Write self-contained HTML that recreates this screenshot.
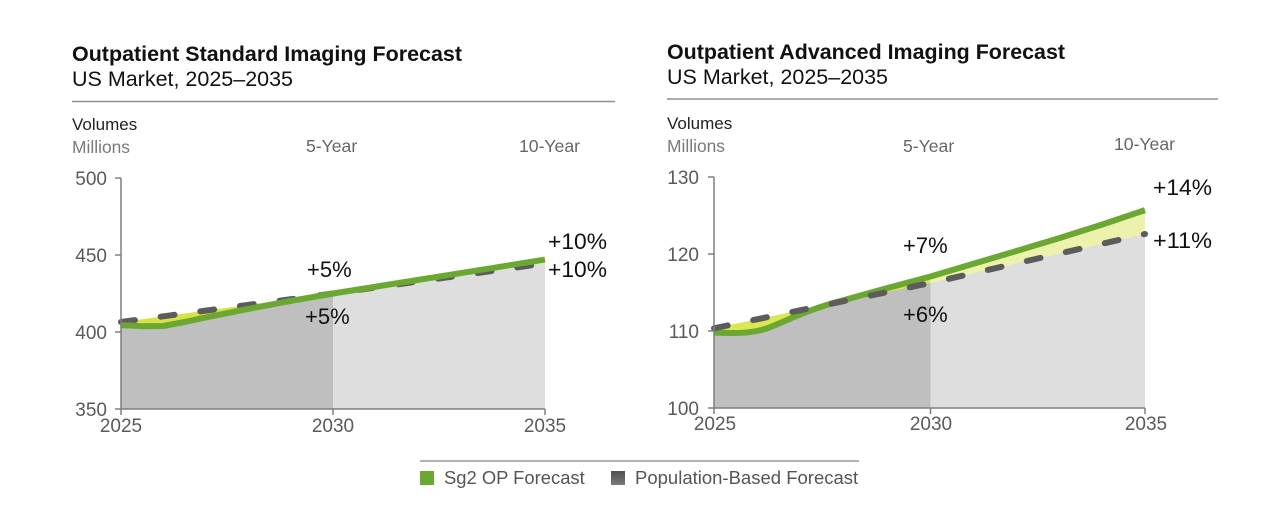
<!DOCTYPE html>
<html>
<head>
<meta charset="utf-8">
<style>
  html, body { margin:0; padding:0; background:#ffffff; }
  body { width:1280px; height:530px; overflow:hidden; }
  svg { display:block; }
  text { font-family: "Liberation Sans", Arial, sans-serif; }
</style>
</head>
<body>
<svg width="1280" height="530" viewBox="0 0 1280 530" xmlns="http://www.w3.org/2000/svg">
  <defs>
    <clipPath id="lDark"><rect x="121" y="100" width="212" height="320"/></clipPath>
    <clipPath id="lLight"><rect x="333" y="100" width="212" height="320"/></clipPath>
    <clipPath id="lUnderDash"><path d="M121,322 L333,293.5 L545,263.5 L545,409 L121,409 Z"/></clipPath>
    <clipPath id="rDark"><rect x="714" y="100" width="216.5" height="320"/></clipPath>
    <clipPath id="rLight"><rect x="930.5" y="100" width="214.5" height="320"/></clipPath>
    <clipPath id="rUnderDash"><path d="M714,328.3 L930.5,283 L1145,234 L1145,408 L714,408 Z"/></clipPath>
    <linearGradient id="lg" x1="0" y1="0" x2="0" y2="1">
      <stop offset="0" stop-color="#4f4f4f"/>
      <stop offset="1" stop-color="#7a7a7a"/>
    </linearGradient>
  </defs>

  <!-- ================= LEFT CHART ================= -->
  <text x="72" y="61" font-size="21" font-weight="bold" fill="#111" textLength="390" lengthAdjust="spacingAndGlyphs">Outpatient Standard Imaging Forecast</text>
  <text x="72" y="86" font-size="21" fill="#111" textLength="221" lengthAdjust="spacingAndGlyphs">US Market, 2025–2035</text>
  <line x1="72" y1="101.5" x2="615" y2="101.5" stroke="#8f8f8f" stroke-width="1.6"/>
  <text x="72" y="130" font-size="17" fill="#222">Volumes</text>
  <text x="72" y="153" font-size="17.4" fill="#7a7a7a">Millions</text>
  <text x="306" y="152" font-size="17.6" fill="#666">5-Year</text>
  <text x="519" y="152" font-size="17.6" fill="#666">10-Year</text>

  <g clip-path="url(#lDark)">
    <path d="M121,325.1 L142.2,326.2 L163.4,326 L184.6,322 L205.8,317.4 L248.2,308.9 L290.6,300.9 L333,293.5 L545,259.6 L545,409 L121,409 Z" fill="#d6e245"/>
    <path d="M121,322 L333,293.5 L545,263.5 L545,409 L121,409 Z" fill="#d6e245"/>
    <path clip-path="url(#lUnderDash)" d="M121,325.1 L142.2,326.2 L163.4,326 L184.6,322 L205.8,317.4 L248.2,308.9 L290.6,300.9 L333,293.5 L545,259.6 L545,409 L121,409 Z" fill="#bfbfbf"/>
  </g>
  <g clip-path="url(#lLight)">
    <path d="M121,325.1 L142.2,326.2 L163.4,326 L184.6,322 L205.8,317.4 L248.2,308.9 L290.6,300.9 L333,293.5 L545,259.6 L545,409 L121,409 Z" fill="#ecf2ac"/>
    <path d="M121,322 L333,293.5 L545,263.5 L545,409 L121,409 Z" fill="#ecf2ac"/>
    <path clip-path="url(#lUnderDash)" d="M121,325.1 L142.2,326.2 L163.4,326 L184.6,322 L205.8,317.4 L248.2,308.9 L290.6,300.9 L333,293.5 L545,259.6 L545,409 L121,409 Z" fill="#dedede"/>
  </g>

  <path d="M121,322 L333,293.5 L545,263.5" fill="none" stroke="#5c5c5c" stroke-width="6" stroke-dasharray="14 26" stroke-linecap="round"/>
  <path d="M121,325.1 L142.2,326.2 L163.4,326 L184.6,322 L205.8,317.4 L248.2,308.9 L290.6,300.9 L333,293.5 L545,259.6" fill="none" stroke="#6ba832" stroke-width="6" stroke-linejoin="round"/>

  <g stroke="#7f7f7f" stroke-width="1.5" fill="none">
    <line x1="121" y1="178" x2="121" y2="409"/>
    <line x1="121" y1="409" x2="545" y2="409"/>
    <line x1="115" y1="178" x2="121" y2="178"/>
    <line x1="115" y1="255" x2="121" y2="255"/>
    <line x1="115" y1="332" x2="121" y2="332"/>
    <line x1="115" y1="409" x2="121" y2="409"/>
    <line x1="121" y1="409" x2="121" y2="415"/>
    <line x1="333" y1="409" x2="333" y2="415"/>
    <line x1="545" y1="409" x2="545" y2="415"/>
  </g>
  <g font-size="19" fill="#5a5a5a" text-anchor="end">
    <text x="107" y="185">500</text>
    <text x="107" y="262">450</text>
    <text x="107" y="339">400</text>
    <text x="107" y="416">350</text>
  </g>
  <g font-size="19" fill="#5a5a5a" text-anchor="middle">
    <text x="121" y="432">2025</text>
    <text x="333" y="432">2030</text>
    <text x="545" y="432">2035</text>
  </g>
  <g font-size="22" fill="#111">
    <text x="307" y="277">+5%</text>
    <text x="305" y="324">+5%</text>
    <text x="548" y="249" textLength="59" lengthAdjust="spacingAndGlyphs">+10%</text>
    <text x="548" y="277" textLength="59" lengthAdjust="spacingAndGlyphs">+10%</text>
  </g>

  <!-- ================= RIGHT CHART ================= -->
  <text x="667" y="59" font-size="21" font-weight="bold" fill="#111" textLength="398" lengthAdjust="spacingAndGlyphs">Outpatient Advanced Imaging Forecast</text>
  <text x="667" y="84" font-size="21" fill="#111" textLength="221" lengthAdjust="spacingAndGlyphs">US Market, 2025–2035</text>
  <line x1="667" y1="99" x2="1218" y2="99" stroke="#8f8f8f" stroke-width="1.6"/>
  <text x="667" y="129" font-size="17" fill="#222">Volumes</text>
  <text x="667" y="152" font-size="17.4" fill="#7a7a7a">Millions</text>
  <text x="903" y="152" font-size="17.6" fill="#666">5-Year</text>
  <text x="1114" y="150" font-size="17.6" fill="#666">10-Year</text>

  <g clip-path="url(#rDark)">
    <path d="M714,332.5 C735,333.5 750,333.5 765,329 C785,322 805,310 843.3,300.3 L886.4,288.3 L930.5,276.5 L972.6,264 L1015.7,251.2 L1058.8,238.2 L1101.9,224.6 L1145,210.1 L1145,408 L714,408 Z" fill="#dbe653"/>
    <path d="M714,328.3 L930.5,283 L1145,234 L1145,408 L714,408 Z" fill="#dbe653"/>
    <path clip-path="url(#rUnderDash)" d="M714,332.5 C735,333.5 750,333.5 765,329 C785,322 805,310 843.3,300.3 L886.4,288.3 L930.5,276.5 L972.6,264 L1015.7,251.2 L1058.8,238.2 L1101.9,224.6 L1145,210.1 L1145,408 L714,408 Z" fill="#bfbfbf"/>
  </g>
  <g clip-path="url(#rLight)">
    <path d="M714,332.5 C735,333.5 750,333.5 765,329 C785,322 805,310 843.3,300.3 L886.4,288.3 L930.5,276.5 L972.6,264 L1015.7,251.2 L1058.8,238.2 L1101.9,224.6 L1145,210.1 L1145,408 L714,408 Z" fill="#ecf2ac"/>
    <path d="M714,328.3 L930.5,283 L1145,234 L1145,408 L714,408 Z" fill="#ecf2ac"/>
    <path clip-path="url(#rUnderDash)" d="M714,332.5 C735,333.5 750,333.5 765,329 C785,322 805,310 843.3,300.3 L886.4,288.3 L930.5,276.5 L972.6,264 L1015.7,251.2 L1058.8,238.2 L1101.9,224.6 L1145,210.1 L1145,408 L714,408 Z" fill="#dedede"/>
  </g>

  <path d="M714,332.5 C735,333.5 750,333.5 765,329 C785,322 805,310 843.3,300.3 L886.4,288.3 L930.5,276.5 L972.6,264 L1015.7,251.2 L1058.8,238.2 L1101.9,224.6 L1145,210.1" fill="none" stroke="#6ba832" stroke-width="6" stroke-linejoin="round"/>
  <path d="M714,328.3 L930.5,283 L1145,234" fill="none" stroke="#5c5c5c" stroke-width="6" stroke-dasharray="14 26" stroke-linecap="round"/>

  <g stroke="#7f7f7f" stroke-width="1.5" fill="none">
    <line x1="714" y1="177" x2="714" y2="408"/>
    <line x1="714" y1="408" x2="1145" y2="408"/>
    <line x1="708" y1="177" x2="714" y2="177"/>
    <line x1="708" y1="254" x2="714" y2="254"/>
    <line x1="708" y1="331" x2="714" y2="331"/>
    <line x1="708" y1="408" x2="714" y2="408"/>
    <line x1="714" y1="408" x2="714" y2="414"/>
    <line x1="930.5" y1="408" x2="930.5" y2="414"/>
    <line x1="1145" y1="408" x2="1145" y2="414"/>
  </g>
  <g font-size="19" fill="#5a5a5a" text-anchor="end">
    <text x="699" y="184">130</text>
    <text x="699" y="261">120</text>
    <text x="699" y="338">110</text>
    <text x="699" y="415">100</text>
  </g>
  <g font-size="19" fill="#5a5a5a" text-anchor="middle">
    <text x="715" y="430">2025</text>
    <text x="931" y="430">2030</text>
    <text x="1146" y="430">2035</text>
  </g>
  <g font-size="22" fill="#111">
    <text x="903" y="253">+7%</text>
    <text x="903" y="322">+6%</text>
    <text x="1153" y="195" textLength="59" lengthAdjust="spacingAndGlyphs">+14%</text>
    <text x="1153" y="248" textLength="59" lengthAdjust="spacingAndGlyphs">+11%</text>
  </g>

  <!-- ================= LEGEND ================= -->
  <line x1="420" y1="461" x2="859" y2="461" stroke="#9a9a9a" stroke-width="1.4"/>
  <rect x="420" y="471" width="14" height="14" fill="#6ba832"/>
  <text x="444" y="484" font-size="18.4" fill="#555">Sg2 OP Forecast</text>
  <rect x="611" y="471" width="14" height="14" fill="url(#lg)"/>
  <text x="635" y="484" font-size="18.5" fill="#555">Population-Based Forecast</text>
</svg>
</body>
</html>
